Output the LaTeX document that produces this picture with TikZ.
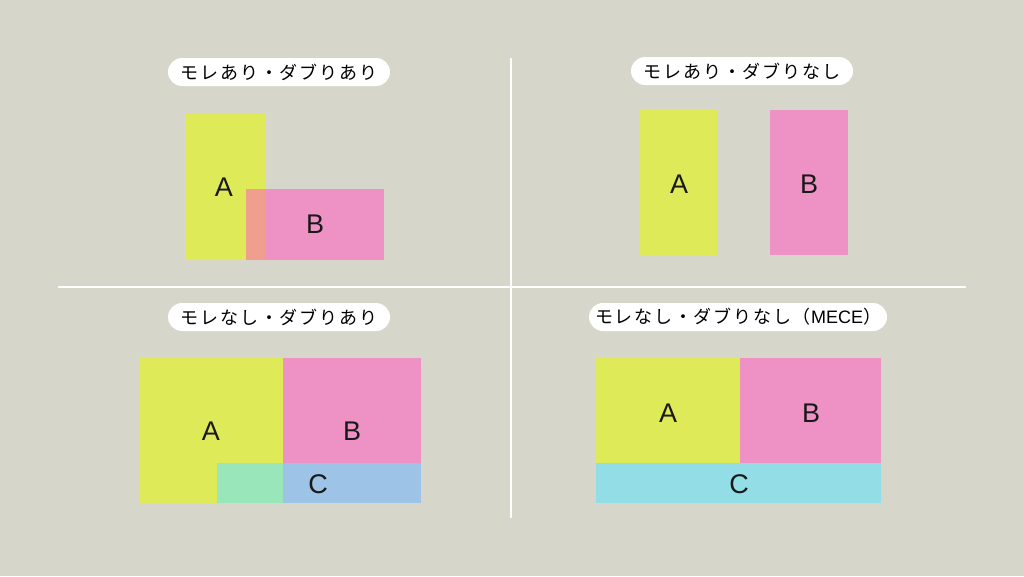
\documentclass[tikz,border=0pt]{standalone}
\usepackage{fontspec}
\setmainfont{Liberation Sans}
\newfontfamily\jpfont[LetterSpace=10]{Noto Sans CJK JP}
\newfontfamily\latinfont{Liberation Sans}
\definecolor{bgc}{RGB}{214,214,203}
\definecolor{yel}{RGB}{223,234,88}
\definecolor{pnk}{RGB}{238,145,196}
\definecolor{org}{RGB}{240,158,142}
\definecolor{grn}{RGB}{152,230,186}
\definecolor{blu}{RGB}{157,195,230}
\definecolor{cyn}{RGB}{147,221,230}
\begin{document}
\begin{tikzpicture}[x=1pt,y=-1pt,
  pill/.style={fill=white, rounded corners=14pt, minimum height=28pt, inner xsep=10pt, inner ysep=0pt, font=\jpfont\fontsize{18}{18}\selectfont, text=black},
  letter/.style={font=\latinfont\fontsize{27}{27}\selectfont, text=black!90},
  divider/.style={white, line width=1.8pt}]
\fill[bgc] (0,0) rectangle (1024,576);
\useasboundingbox (0,0) rectangle (1024,576);
% dividers
\coordinate (vt) at (511,58);
\coordinate (vb) at (511,518);
\coordinate (hl) at (58,287);
\coordinate (hr) at (966,287);
\draw[divider] (vt) -- (vb);
\draw[divider] (hl) -- (hr);
% ---- top-left
\node[pill, minimum width=222pt] (t1) at (279,72) {モレあり・ダブりあり};
\fill[yel] (185,114) rectangle (265,260);
\fill[pnk] (246,189) rectangle (384,260);
\fill[org] (246,189) rectangle (265,260);
\node[letter] (a1) at (224,187) {A};
\node[letter] (b1) at (315,224) {B};
% ---- top-right
\node[pill, minimum width=222pt] (t2) at (742,71) {モレあり・ダブりなし};
\fill[yel] (640,110) rectangle (718,256);
\fill[pnk] (770,110) rectangle (848,255);
\node[letter] (a2) at (679,184) {A};
\node[letter] (b2) at (809,184) {B};
% ---- bottom-left
\node[pill, minimum width=222pt] (t3) at (279,317) {モレなし・ダブりあり};
\fill[yel] (140,358) rectangle (283,503);
\fill[pnk] (283,358) rectangle (421,463);
\fill[blu] (283,463) rectangle (421,503);
\fill[grn] (217,463) rectangle (283,503);
\node[letter] (a3) at (211,431) {A};
\node[letter] (b3) at (352,431) {B};
\node[letter] (c3) at (318,484) {C};
% ---- bottom-right
\node[pill, minimum width=290pt, inner xsep=6pt] (t4) at (738,317) {モレなし・ダブりなし（{\latinfont MECE}）};
\fill[yel] (596,358) rectangle (740,463);
\fill[pnk] (740,358) rectangle (881,463);
\fill[cyn] (596,463) rectangle (881,503);
\node[letter] (a4) at (668,413) {A};
\node[letter] (b4) at (811,413) {B};
\node[letter] (c4) at (739,484) {C};
\end{tikzpicture}
\end{document}
